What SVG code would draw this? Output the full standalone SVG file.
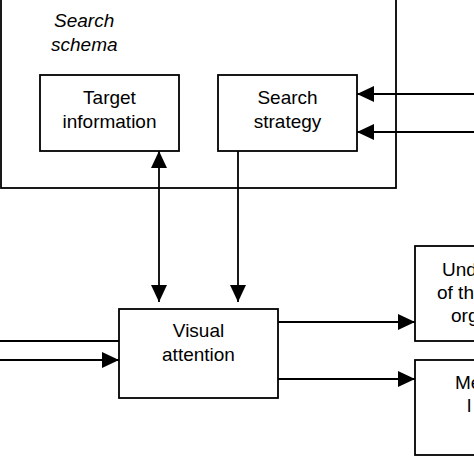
<svg xmlns="http://www.w3.org/2000/svg" width="474" height="474" viewBox="0 0 474 474">
<defs>
<marker id="ah" markerUnits="userSpaceOnUse" markerWidth="17" markerHeight="16" refX="17" refY="8" orient="auto-start-reverse">
<path d="M0,0 L17,8 L0,16 z" fill="#000"/>
</marker>
<style>
.box{fill:#fff;stroke:#000;stroke-width:1.8}
.t{font-family:"Liberation Sans",Arial,sans-serif;font-size:19px;fill:#000}
.c{text-anchor:middle}
.ln{fill:none;stroke:#000;stroke-width:1.8}
</style>
</defs>
<rect width="474" height="474" fill="#fff"/>
<g id="search-schema">
<rect class="box" x="1" y="-10" width="395" height="198"/>
<text class="t" x="54" y="27" font-style="italic">Search</text>
<text class="t" x="51" y="51" font-style="italic">schema</text>
</g>
<g id="target-information">
<rect class="box" x="40" y="75" width="139" height="76"/>
<text class="t c" x="109.5" y="104">Target</text>
<text class="t c" x="109.5" y="128">information</text>
</g>
<g id="search-strategy">
<rect class="box" x="218" y="75" width="139" height="76"/>
<text class="t c" x="287.5" y="104">Search</text>
<text class="t c" x="287.5" y="128">strategy</text>
</g>
<g id="visual-attention">
<rect class="box" x="119" y="309" width="159" height="89"/>
<text class="t c" x="198.5" y="337">Visual</text>
<text class="t c" x="198.5" y="361">attention</text>
</g>
<g id="understanding">
<rect class="box" x="415" y="246" width="80" height="95"/>
<text class="t" x="442" y="276">Und</text>
<text class="t" x="437" y="299">of th</text>
<text class="t" x="451" y="322">org</text>
</g>
<g id="memory">
<rect class="box" x="415" y="360" width="80" height="95"/>
<text class="t" x="455" y="389">Me</text>
<text class="t" x="467" y="412">l</text>
</g>
<g id="connectors">
<line class="ln" x1="474" y1="94" x2="357" y2="94" marker-end="url(#ah)"/>
<line class="ln" x1="474" y1="132" x2="357" y2="132" marker-end="url(#ah)"/>
<line class="ln" x1="159" y1="151" x2="159" y2="302" marker-start="url(#ah)" marker-end="url(#ah)"/>
<line class="ln" x1="238" y1="151" x2="238" y2="302" marker-end="url(#ah)"/>
<line class="ln" x1="0" y1="341" x2="119" y2="341"/>
<line class="ln" x1="0" y1="360" x2="119" y2="360" marker-end="url(#ah)"/>
<line class="ln" x1="278" y1="322" x2="415" y2="322" marker-end="url(#ah)"/>
<line class="ln" x1="278" y1="379" x2="415" y2="379" marker-end="url(#ah)"/>
</g>
</svg>
